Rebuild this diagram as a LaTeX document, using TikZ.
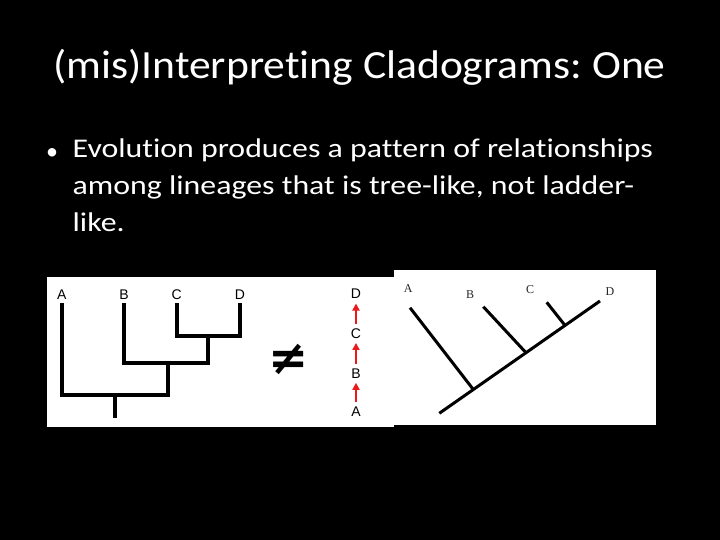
\documentclass[tikz,border=0pt]{standalone}
\usepackage{fontspec}
\setmainfont{Carlito}[Ligatures={NoCommon,NoContextual}]
\newfontfamily\titlefont{Carlito}[Ligatures={NoCommon,NoContextual}, FakeStretch=1.09]
\newfontfamily\bodyfont{Carlito}[Ligatures={NoCommon,NoContextual}, FakeStretch=1.18]
\newfontfamily\arialf{Liberation Sans}
\newfontfamily\timesf{Liberation Serif}
\newfontfamily\dejavuf{DejaVu Sans}
\usetikzlibrary{arrows.meta}
\definecolor{arrowred}{RGB}{235,25,25}
\frenchspacing
\tikzset{
  titletext/.style={text=white, inner sep=0pt, font=\titlefont\fontsize{40}{48}\selectfont},
  bodytext/.style={text=white, inner sep=0pt, align=left, font=\bodyfont\fontsize{27}{37}\selectfont},
  panel/.style={fill=white, draw=none},
  clade/.style={line width=4pt, line join=miter, line cap=rect},
  diag/.style={line width=3pt, line cap=butt},
  sanslabel/.style={inner sep=0pt, font=\arialf\fontsize{14}{15}\selectfont},
  seriflabel/.style={inner sep=0pt, text=black!85, font=\timesf\fontsize{12}{13}\selectfont},
  ladderarrow/.style={arrowred, line width=2.4pt, -{Triangle[length=7pt,width=7pt]}, shorten <=4.5pt, shorten >=4.5pt},
}
\begin{document}
\begin{tikzpicture}[x=1pt,y=-1pt]
\fill[black] (0,0) rectangle (720,540);
\useasboundingbox (0,0) rectangle (720,540);

% title and bullet
\node[titletext, anchor=base] (title) at (359.5,78.5) {(mis)Interpreting Cladograms: One};
\node[bodytext, anchor=base, font=\fontsize{24}{30}\selectfont] (bullet) at (52,159.3) {•};
\node[bodytext, anchor=north west] (body) at (72.5,139) {Evolution produces a pattern of relationships\\among lineages that is tree-like, not ladder-\\like.};

% panels
\fill[panel] (47,277) rectangle (393.5,427);
\fill[panel] (393.5,270) rectangle (656,425);

% left cladogram
\coordinate (tA) at (61.7,305);
\coordinate (tB) at (124,305);
\coordinate (tC) at (176.7,305);
\coordinate (tD) at (240,305);
\coordinate (nCD) at (208.3,335.7);
\coordinate (nBCD) at (167.7,363.3);
\coordinate (nR) at (115,395);
\coordinate (root) at (115,418.3);
\node[sanslabel] (lA) at (61.7,295) {A};
\node[sanslabel] (lB) at (124,295) {B};
\node[sanslabel] (lC) at (176.7,295) {C};
\node[sanslabel] (lD) at (240,295) {D};
\draw[clade] (tC) |- (nCD) -| (tD);
\draw[clade] (tB) |- (nBCD) -| (nCD);
\draw[clade] (tA) |- (nR) -| (nBCD);
\draw[clade, line cap=butt] (nR) -- (root);

% not-equal sign
\node[inner sep=0pt, font=\dejavuf\bfseries\fontsize{48}{52}\selectfont] (neq) at (289,359) {≠};

% ladder
\node[sanslabel] (kD) at (356,294) {D};
\node[sanslabel] (kC) at (356,333.3) {C};
\node[sanslabel] (kB) at (356,373.3) {B};
\node[sanslabel] (kA) at (356,411.7) {A};
\draw[ladderarrow] (kA) -- (kB);
\draw[ladderarrow] (kB) -- (kC);
\draw[ladderarrow] (kC) -- (kD);

% right cladogram
\coordinate (rRoot) at (439.3,413.3);
\coordinate (rD) at (600,301);
\coordinate (rA) at (410,307.7);
\coordinate (rB) at (483.3,306.7);
\coordinate (rC) at (546.7,302.3);
\coordinate (jA) at (473.3,389.5);
\coordinate (jB) at (526,352.7);
\coordinate (jC) at (565,325.4);
\node[seriflabel] (mA) at (408.3,289) {A};
\node[seriflabel] (mB) at (470,295) {B};
\node[seriflabel] (mC) at (530,290) {C};
\node[seriflabel] (mD) at (610,291.7) {D};
\draw[diag] (rRoot) -- (rD);
\draw[diag] (rA) -- (jA);
\draw[diag] (rB) -- (jB);
\draw[diag] (rC) -- (jC);
\end{tikzpicture}
\end{document}
